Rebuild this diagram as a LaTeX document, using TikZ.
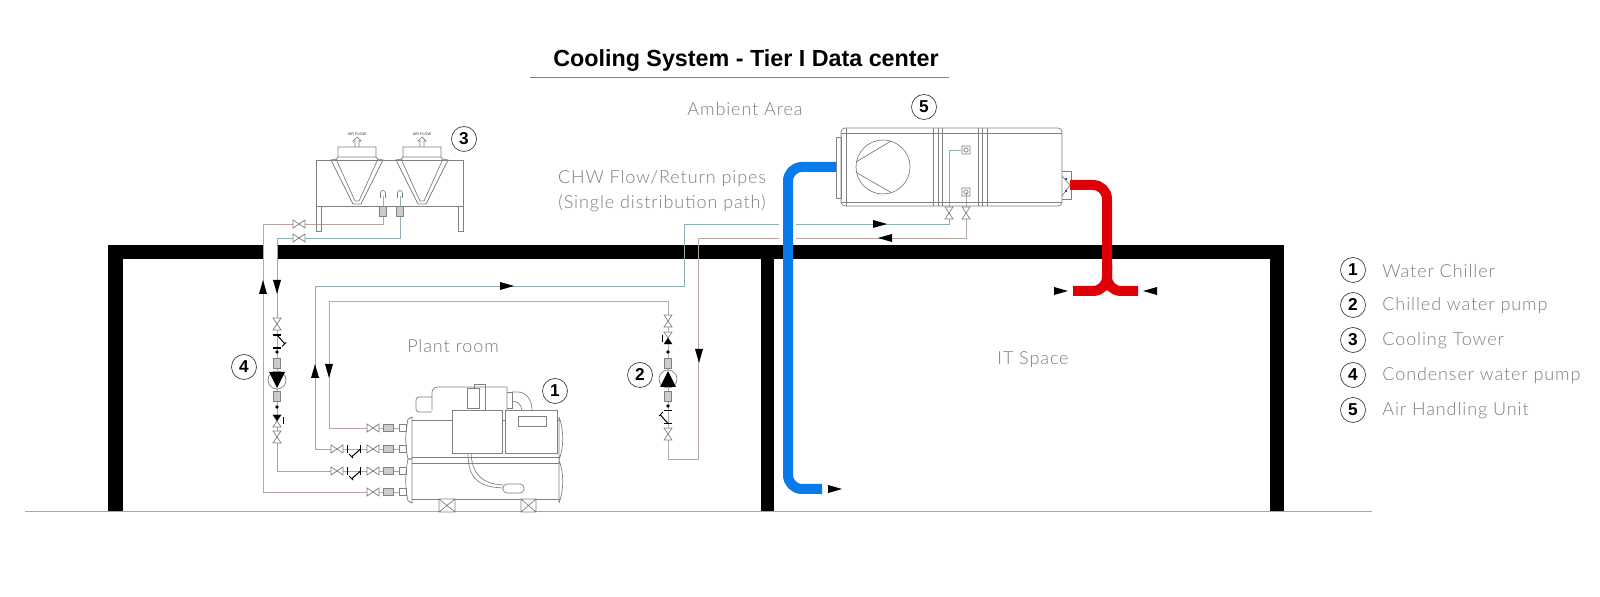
\documentclass[tikz,border=0pt]{standalone}
\usepackage{fontspec}
\setmainfont{Liberation Sans}
\newfontfamily\cadfont[LetterSpace=5]{Lato Light}
\usepackage{tikz}
\usetikzlibrary{arrows.meta}

\definecolor{coolblue}{RGB}{8,122,236}
\definecolor{hotred}{RGB}{222,0,8}
\definecolor{flowline}{RGB}{140,178,180}
\definecolor{backline}{RGB}{186,166,162}
\definecolor{equipline}{RGB}{128,128,128}
\definecolor{labelgray}{RGB}{125,125,125}

\tikzset{
  wall/.style={fill=black,draw=none},
  ground/.style={draw=gray!70,line width=0.5pt},
  equip/.style={draw=equipline,line width=0.35pt},
  flowpipe/.style={draw=flowline,line width=0.42pt},
  backpipe/.style={draw=backline,line width=0.42pt},
  duct/.style={line width=5pt,rounded corners=7pt},
  callout/.style={circle,draw=black!75,line width=0.35pt,minimum size=12.5pt,inner sep=0pt,font=\fontsize{8.6}{10}\bfseries},
  roomlabel/.style={text=labelgray,font=\fontsize{9}{10}\cadfont,inner sep=0pt,align=center},
  pics/flowtip/.style={code={\fill[black] (7,0) -- (-7,-4) -- (-7,4) -- cycle;}},
  pics/valve/.style={code={\draw[equip,fill=white] (-6,-4) -- (6,4) -- (6,-4) -- (-6,4) -- cycle;}},
  pics/checkvalve/.style={code={
    \draw[equip,fill=white] (-6,-4) -- (6,4) -- (6,-4) -- (-6,4) -- cycle;
    \fill[black] (-6,-4) -- (0,0) -- (-6,4) -- cycle;
    \draw[black,line width=0.35pt] (-4,-6) -- (3,-6);}},
  pics/hatchbox/.style={code={\draw[equip,fill=gray!40] (-5,-3.5) rectangle (5,3.5);}},
  pics/strainer/.style={code={
    \draw[black,line width=0.6pt] (-6.5,-4) -- (-6.5,4) (6.5,-4) -- (6.5,4);
    \draw[black,line width=0.5pt] (6.5,0) -- (-2.5,8) (-5,5) -- (-1,9);}},
  pics/pumpsym/.style={code={
    \draw[equip,fill=white] (0,0) circle (9);
    \fill[black] (8,0) -- (-8,-8) -- (-8,8) -- cycle;}},
  pics/fanbank/.style={code={
    \draw[equip] (-19,-13) rectangle (19,-3) (-21,0) -- (-19,-3) (21,0) -- (19,-3);
    \draw[equip] (-2,-13) -- (-2,-19) -- (-4,-19) -- (0,-23) -- (4,-19) -- (2,-19) -- (2,-13);
    \draw[equip] (-26,0) -- (-4,44) -- (4,44) -- (26,0) -- (21,-1) -- (2,41) -- (-2,41) -- (-21,-1) -- cycle;
    \node[inner sep=0pt,text=black!80,font=\fontsize{1.9}{2}\selectfont] at (0,-26) {AIR FLOW};}}
}

\begin{document}
\begin{tikzpicture}[x=0.5pt,y=-0.5pt]
  \useasboundingbox (0,0) rectangle (1600,597);

  % building
  \fill[wall] (108,245) rectangle (1284,259);
  \fill[wall] (108,245) rectangle (122.5,512);
  \fill[wall] (761,245) rectangle (774,512);
  \fill[wall] (1270,245) rectangle (1284,512);
  \fill[white] (263,245) rectangle (277,259);
  \draw[ground] (25,512) -- (1372,512);

  % title
  \node[inner sep=0pt,font=\fontsize{11.65}{13}\bfseries] (title) at (746,61) {Cooling System - Tier I Data center};
  \draw[equip] (530,77) -- (949,77);

  % room texts
  \node[roomlabel] (ambient) at (745,109) {Ambient Area};
  \node[roomlabel] (plantroom) at (453,346) {Plant room};
  \node[roomlabel] (itspace) at (1033,360) {IT Space};
  \node[roomlabel] (chwtext) at (662,191) {CHW Flow/Return pipes\\[2.5pt](Single distribution path)};

  % condenser loop
  \draw[backpipe] (383,196) -- (383,224) -- (263,224) -- (263,492) -- (399,492);
  \draw[flowpipe] (400,196) -- (400,238) -- (277,238) -- (277,471) -- (399,471);

  % chilled water loop, flow side
  \draw[flowpipe] (399,449) -- (315,449) -- (315,286) -- (684,286) -- (684,224) -- (779,224);
  \draw[flowpipe] (796,224) -- (949,224) -- (949,150) -- (961,150);

  % chilled water loop, return side
  \draw[backpipe] (399,428) -- (329,428) -- (329,301) -- (668,301) -- (668,459) -- (698,459) -- (698,238) -- (779,238);
  \draw[backpipe] (796,238) -- (966,238) -- (966,192);

  % flow arrows
  \path (263,287) pic[rotate=90] {flowtip};
  \path (277,287) pic[rotate=-90] {flowtip};
  \path (315,371) pic[rotate=90] {flowtip};
  \path (329,371) pic[rotate=-90] {flowtip};
  \path (507,286) pic {flowtip};
  \path (699,356) pic[rotate=-90] {flowtip};
  \path (880,224) pic {flowtip};
  \path (885,238) pic[rotate=180] {flowtip};

  % cooling tower
  \draw[equip] (316,160) rectangle (463,206);
  \draw[equip] (316,206) -- (316,231) -- (321,231) -- (321,206);
  \draw[equip] (458,206) -- (458,231) -- (463,231) -- (463,206);
  \path (357,160) pic {fanbank};
  \path (422,160) pic {fanbank};
  \draw[equip] (380.5,198) -- (380.5,193) arc (180:360:2.5) -- (385.5,198);
  \draw[equip] (397.5,198) -- (397.5,193) arc (180:360:2.5) -- (402.5,198);
  \path (383,211) pic[rotate=90] {hatchbox};
  \path (400,211) pic[rotate=90] {hatchbox};
  \path (299,224) pic {valve};
  \path (299,238) pic {valve};

  % condenser water pump
  \path (277,324) pic[rotate=90] {valve};
  \path (277,341.5) pic[rotate=90] {strainer};
  \fill (277,352) circle (1.8);
  \path (277,363) pic[rotate=90] {hatchbox};
  \path (277,380) pic[rotate=-90] {pumpsym};
  \path (277,396) pic[rotate=90] {hatchbox};
  \fill (277,407) circle (1.8);
  \path (277,421) pic[rotate=-90] {checkvalve};
  \path (277,437) pic[rotate=90] {valve};

  % chilled water pump
  \path (668,321) pic[rotate=90] {valve};
  \path (668,338) pic[rotate=90] {checkvalve};
  \fill (668,352) circle (1.8);
  \path (668,363) pic[rotate=90] {hatchbox};
  \path (668,379) pic[rotate=90] {pumpsym};
  \path (668,396) pic[rotate=90] {hatchbox};
  \fill (668,406) circle (1.8);
  \path (668,417) pic[rotate=-90] {strainer};
  \path (668,434) pic[rotate=90] {valve};

  % chiller connections
  \foreach \y in {428,449,471,492} {
    \path (373,\y) pic {valve};
    \path (388,\y) pic {hatchbox};
    \draw[equip,fill=white] (399,\y-3.5) rectangle (406,\y+3.5);
  }
  \foreach \y in {449,471} {
    \path (337,\y) pic {valve};
    \path (354,\y) pic {strainer};
  }

  % chiller
  \draw[equip] (412,420) -- (559,420) (412,457) -- (559,457) (412,463) -- (559,463) (412,499) -- (559,499);
  \draw[equip] (412,417) -- (408,419) .. controls (405,435) and (405,445) .. (408,459) -- (412,459) -- cycle;
  \draw[equip] (412,459) -- (408,459) .. controls (405,473) and (405,488) .. (408,501) -- (412,503) -- cycle;
  \draw[equip] (559,417) -- (559,503) (559,417) .. controls (564,430) and (564,447) .. (559,460) .. controls (564,473) and (564,490) .. (559,503);
  \draw[equip,fill=white] (439,499) rectangle (455,512) (439,499) -- (455,512) (455,499) -- (439,512);
  \draw[equip,fill=white] (521,499) rectangle (536,512) (521,499) -- (536,512) (536,499) -- (521,512);
  \draw[equip] (432,410) -- (432,392) .. controls (433,388) and (435,387) .. (438,387) -- (507,387) -- (507,410);
  \draw[equip,rounded corners=1.5pt] (432,397) -- (416,397) -- (416,412) -- (432,412);
  \draw[equip] (467,388) rectangle (479,408);
  \draw[equip] (474,388) -- (474,384) -- (485,384) -- (485,410);
  \draw[equip] (507,392) -- (512,392) -- (512,408) -- (507,408);
  \draw[equip] (512,392) -- (518,392) .. controls (526,392) and (532,400) .. (532,410);
  \draw[equip] (512,402) .. controls (517,400) and (521,404) .. (522,410);
  \draw[equip,fill=white] (452,410) rectangle (502,453);
  \draw[equip,fill=white] (505,410) rectangle (557,453);
  \draw[equip] (518,416) rectangle (546,426);
  \draw[equip] (468,453) .. controls (468,478) and (478,487) .. (503,488);
  \draw[equip] (471,453) .. controls (472,474) and (482,484) .. (503,485);
  \draw[equip,fill=white,rounded corners=2pt] (503,484) rectangle (524,493);

  % air handling unit
  \draw[equip,rounded corners=2pt] (841,128) rectangle (1062,206);
  \draw[equip] (841,133) -- (1062,133) (841,202) -- (1062,202);
  \draw[equip] (846,128) -- (846,206) (933,128) -- (933,206) (938,128) -- (938,206) (942,128) -- (942,206);
  \draw[equip] (978,128) -- (978,206) (982,128) -- (982,206) (987,128) -- (987,206);
  \draw[equip] (836,137) rectangle (841,198);
  \draw[equip] (883,167) circle (27);
  \draw[equip] (856,162) -- (891,141) (857,173) -- (892,193);
  \draw[equip] (962,146) rectangle (970,154) (966,150) circle (2.2);
  \draw[equip] (962,188) rectangle (970,196) (966,192) circle (2.2);
  \path (949,213) pic[rotate=90] {valve};
  \path (966,213) pic[rotate=90] {valve};
  \draw[equip] (1062,171) -- (1071,171) -- (1071,199) -- (1062,199);
  \draw[equip] (1062,176) -- (1070,185) -- (1062,196);
  \fill (1066,179) circle (1) (1066,191) circle (1);

  % air ducts
  \draw[duct,coolblue] (836,167) -- (788,167) -- (788,489) -- (822,489);
  \draw[duct,hotred] (1070,185) -- (1107,185) -- (1107,270);
  \draw[duct,hotred] (1107,265) -- (1107,291) -- (1073,291);
  \draw[duct,hotred] (1107,265) -- (1107,291) -- (1138,291);
  \path (835,489) pic {flowtip};
  \path (1061,291) pic {flowtip};
  \path (1150,291) pic[rotate=180] {flowtip};

  % numbered callouts
  \begin{scope}[every node/.style={callout}]
    \node (c1) at (555,391) {1};
    \node (c2) at (640,375) {2};
    \node (c3) at (464,139) {3};
    \node (c4) at (244,367) {4};
    \node (c5) at (924,107) {5};
  \end{scope}

  % legend
  \foreach \n/\y/\t in {1/270/Water Chiller,2/305/Chilled water pump,3/340/Cooling Tower,4/375/Condenser water pump,5/410/Air Handling Unit} {
    \node[callout] (key\n) at (1353,\y) {\n};
    \node[roomlabel,anchor=west] (txt\n) at (1382,\y+1) {\t};
  }
\end{tikzpicture}
\end{document}
